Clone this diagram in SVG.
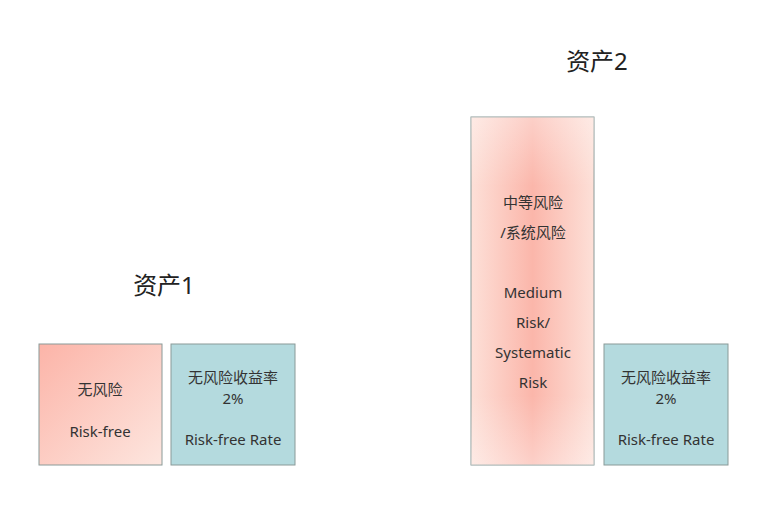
<svg xmlns="http://www.w3.org/2000/svg" width="761" height="508" viewBox="0 0 761 508">
<defs>
<linearGradient id="g1" x1="0" y1="0" x2="1" y2="1"><stop offset="0" stop-color="#fcb4a8"/><stop offset="1" stop-color="#fde6df"/></linearGradient>
<linearGradient id="g2" x1="0" y1="0" x2="1" y2="0"><stop offset="0" stop-color="#fde0d8"/><stop offset="0.5" stop-color="#fbb6aa"/><stop offset="1" stop-color="#fde0d8"/></linearGradient>
<linearGradient id="g3" x1="0" y1="0" x2="0" y2="1"><stop offset="0" stop-color="#fff" stop-opacity="0.35"/><stop offset="0.2" stop-color="#fff" stop-opacity="0"/><stop offset="0.8" stop-color="#fff" stop-opacity="0"/><stop offset="1" stop-color="#fff" stop-opacity="0.35"/></linearGradient>
</defs>
<style>
text{font-family:"Noto Sans","Noto Sans CJK SC",sans-serif;fill:#333;text-anchor:middle}
.t{font-size:15px}
.h{font-size:24px;fill:#222}
.b{stroke:#8a9a98;stroke-width:1}
.teal{fill:#b4dade}
</style>
<rect width="761" height="508" fill="#fff"/>
<text class="h" x="164" y="294">资产1</text>
<text class="h" x="597" y="70">资产2</text>
<g id="n1"><rect class="b" x="39" y="344" width="123" height="121" fill="url(#g1)"/>
<text class="t" x="100" y="395">无风险</text><text class="t" x="100" y="437">Risk-free</text></g>
<g id="n2"><rect class="b teal" x="171" y="344" width="124" height="121"/>
<text class="t" x="233" y="383">无风险收益率</text><text class="t" x="233" y="404">2%</text><text class="t" x="233" y="445">Risk-free Rate</text></g>
<g id="n3"><rect class="b" x="471" y="117" width="123" height="348" fill="url(#g2)"/>
<rect x="471" y="117" width="123" height="348" fill="url(#g3)"/>
<text class="t" x="533" y="208">中等风险</text><text class="t" x="533" y="238">/系统风险</text>
<text class="t" x="533" y="298">Medium</text><text class="t" x="533" y="328">Risk/</text><text class="t" x="533" y="358">Systematic</text><text class="t" x="533" y="388">Risk</text></g>
<g id="n4"><rect class="b teal" x="604" y="344" width="124" height="121"/>
<text class="t" x="666" y="383">无风险收益率</text><text class="t" x="666" y="404">2%</text><text class="t" x="666" y="445">Risk-free Rate</text></g>
<g id="connectors"/>
</svg>
